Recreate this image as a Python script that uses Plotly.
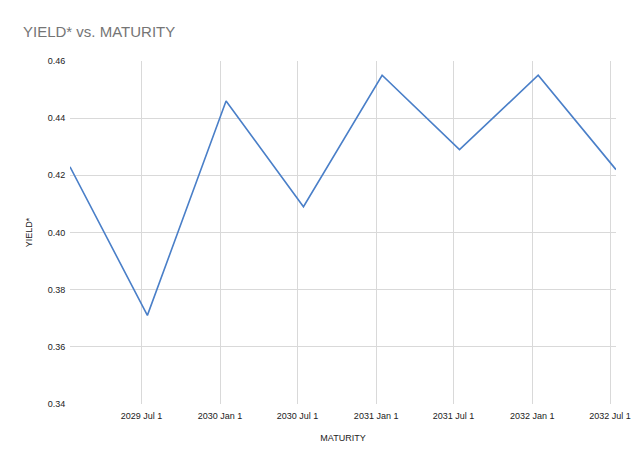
import plotly.graph_objects as go

maturity = ["2029-01-15", "2029-07-15", "2030-01-15", "2030-07-15",
            "2031-01-15", "2031-07-15", "2032-01-15", "2032-07-15"]
yield_vals = [0.423, 0.371, 0.446, 0.409, 0.455, 0.429, 0.455, 0.422]
y_ticks = [0.34, 0.36, 0.38, 0.40, 0.42, 0.44, 0.46]
x_ticks = ["2029-07-01", "2030-01-01", "2030-07-01", "2031-01-01",
           "2031-07-01", "2032-01-01", "2032-07-01"]
x_tick_labels = ["2029 Jul 1", "2030 Jan 1", "2030 Jul 1", "2031 Jan 1",
                 "2031 Jul 1", "2032 Jan 1", "2032 Jul 1"]

W, H = 624, 451

fig = go.Figure(go.Scatter(
    x=maturity, y=yield_vals, mode="lines",
    line=dict(color="#4a7fc8", width=1.6),
    hoverinfo="skip",
))

fig.update_layout(
    width=W, height=H,
    margin=dict(l=62, r=16, t=53, b=55),
    paper_bgcolor="white", plot_bgcolor="white",
    font=dict(family="Arial, Liberation Sans, sans-serif", color="#222222", size=9),
    title=dict(text="YIELD* vs. MATURITY", x=15/W, xanchor="left",
               y=1 - 24/H, yanchor="middle",
               font=dict(size=15, color="#757575")),
    showlegend=False,
    xaxis=dict(
        type="date", range=[maturity[0], maturity[-1]],
        tickvals=x_ticks, ticktext=x_tick_labels,
        showgrid=True, gridcolor="#d9d9d9", gridwidth=1,
        showline=False, zeroline=False, automargin=False,
        ticks="outside", ticklen=3, tickcolor="rgba(0,0,0,0)",
        tickfont=dict(size=9, color="#222222"),
        title=dict(text="MATURITY", font=dict(size=9, color="#222222"), standoff=14),
    ),
    yaxis=dict(
        range=[0.34, 0.46], tickvals=y_ticks,
        tickformat=".2f", automargin=False,
        showgrid=True, gridcolor="#d9d9d9", gridwidth=1,
        showline=False, zeroline=False,
        ticks="outside", ticklen=2, tickcolor="rgba(0,0,0,0)",
        tickfont=dict(size=9, color="#222222"),
        title=dict(text="YIELD*", font=dict(size=9, color="#222222"), standoff=13),
    ),
)

fig.write_html("out.html")
